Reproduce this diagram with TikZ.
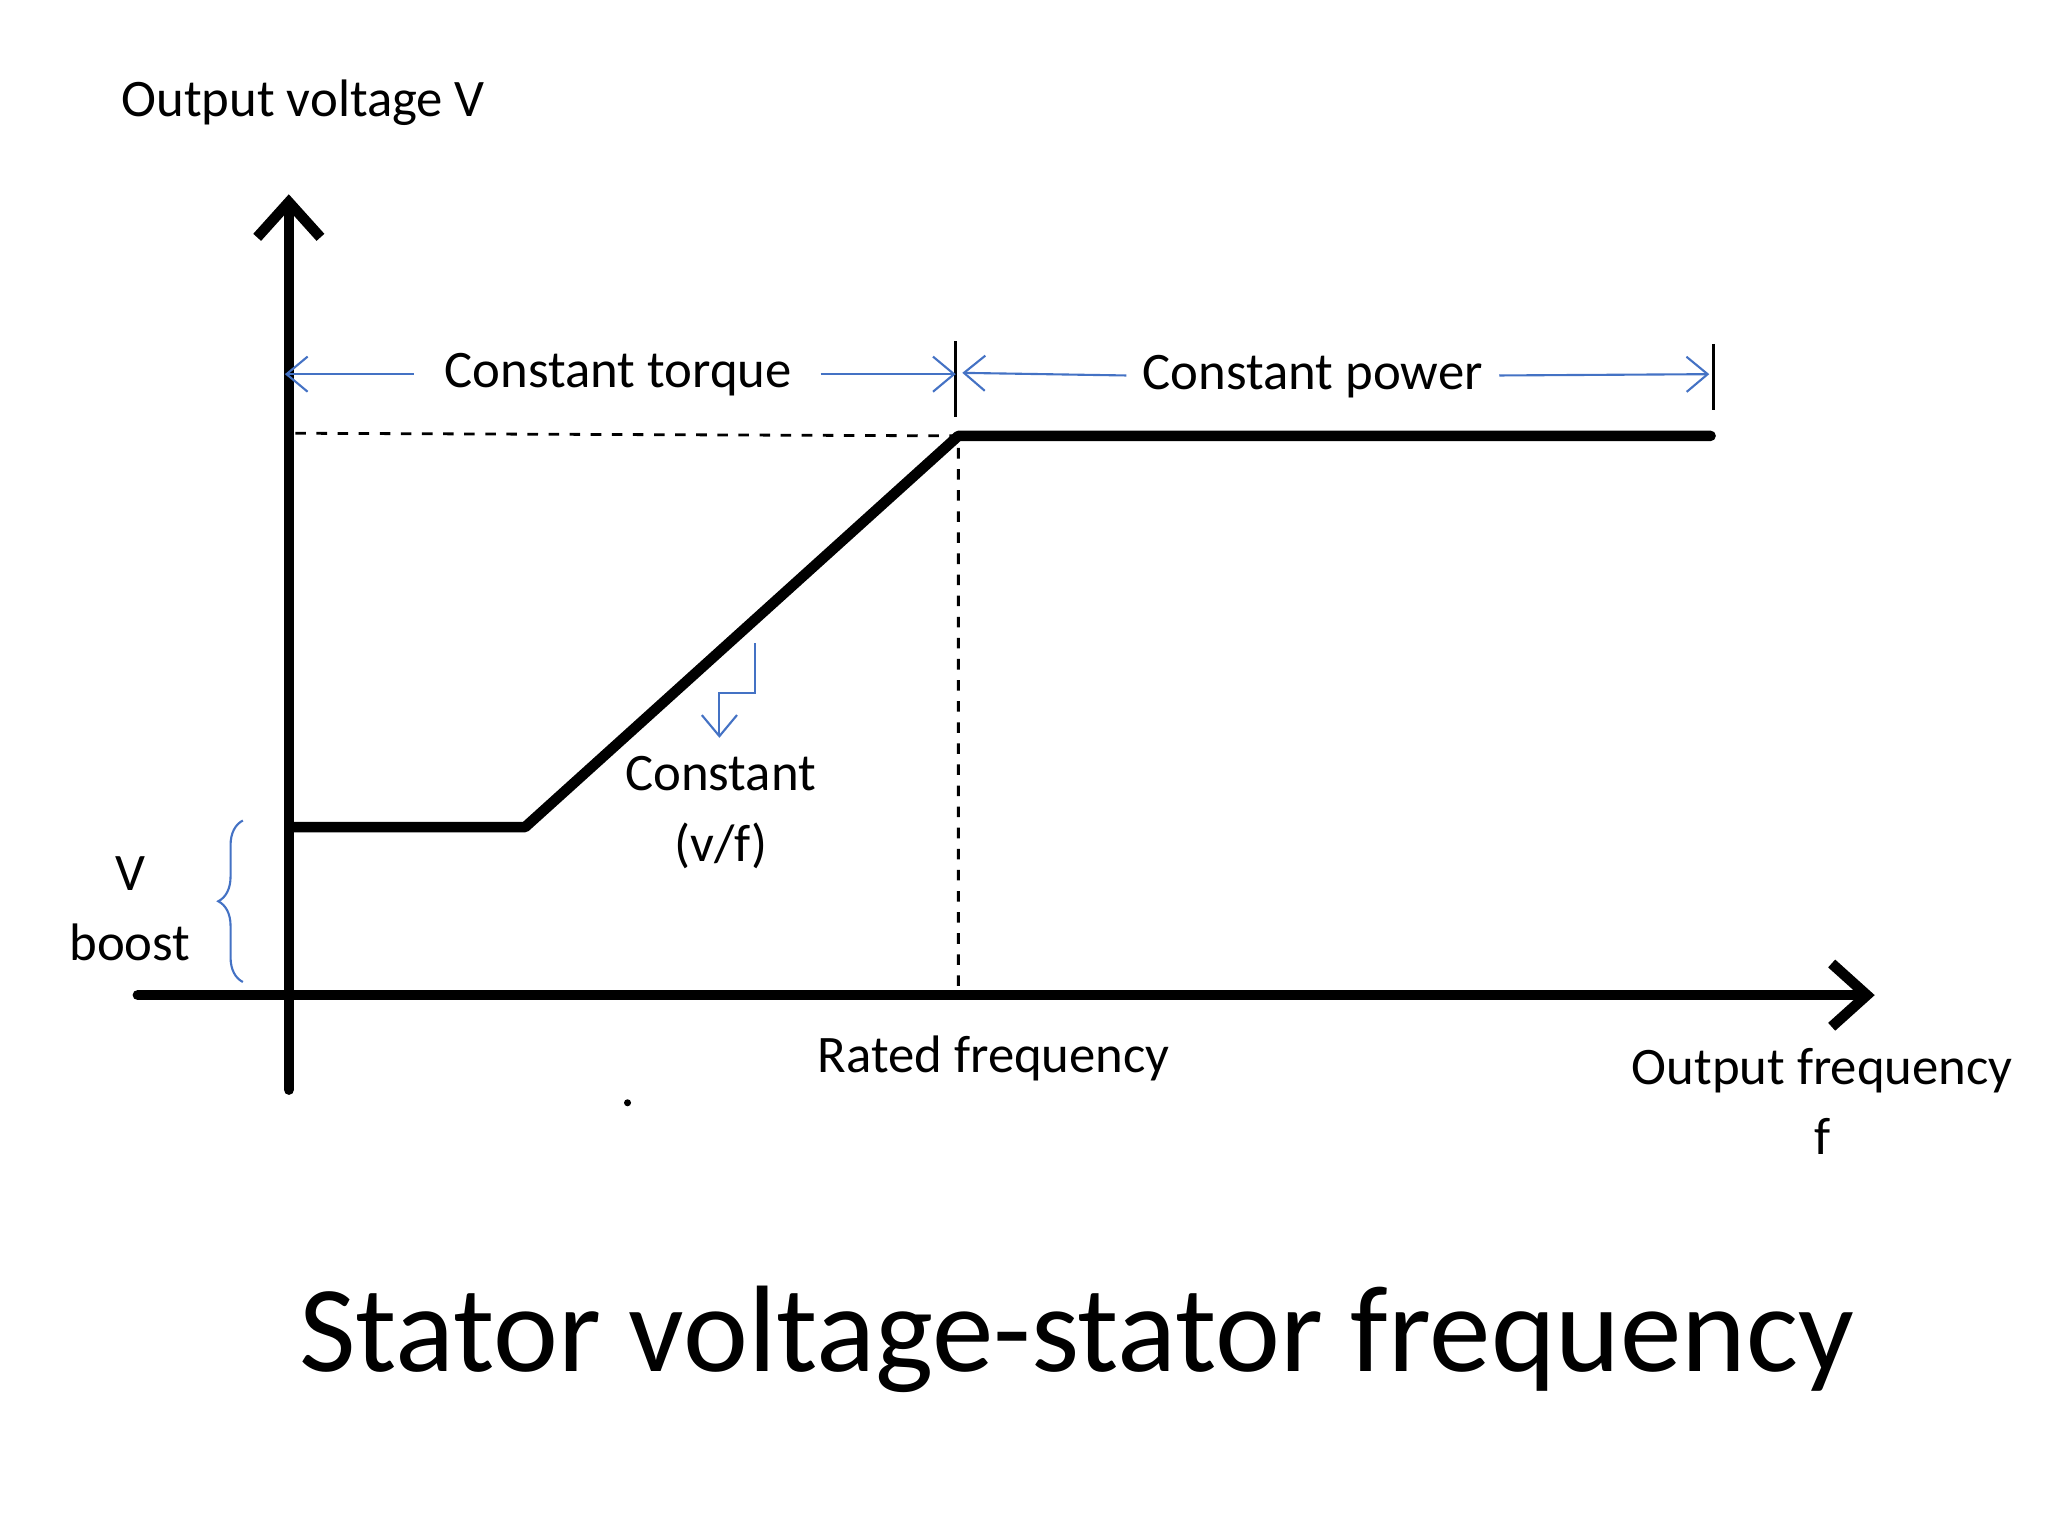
\documentclass[tikz,border=0pt]{standalone}
\usepackage{fontspec}
\setmainfont{Carlito}
\usetikzlibrary{arrows.meta,decorations.pathreplacing}
\definecolor{myblue}{RGB}{68,114,196}
\begin{document}
\begin{tikzpicture}[x=0.013128cm,y=-0.013128cm,
  lab/.style={font=\fontsize{15}{18}\selectfont,inner sep=0pt,align=center},
  thickline/.style={line width=3pt,line cap=round,line join=round},
  bl/.style={myblue,line width=0.6pt,-{Straight Barb[length=6pt,width=10pt]}}]
\useasboundingbox (0,0) rectangle (1560,1170);
% axes
\coordinate (yb) at (220,830); \coordinate (yt) at (220,148);
\coordinate (xl) at (105,758); \coordinate (xr) at (1428,758);
\draw[thickline,-{Straight Barb[length=10pt,width=18pt,line width=3pt]}] (yb) -- (yt);
\draw[thickline,-{Straight Barb[length=10pt,width=18pt,line width=3pt]}] (xl) -- (xr);
% curve
\coordinate (p0) at (222,630); \coordinate (p1) at (400,630);
\coordinate (p2) at (730,332); \coordinate (p3) at (1303,332);
\draw[thickline] (p0) -- (p1) -- (p2) -- (p3);
% dashed
\coordinate (d0) at (225,330); \coordinate (d1) at (730,755);
\draw[dashed,line width=0.8pt] (d0) -- (p2) -- (d1);
% ticks
\coordinate (t1a) at (728,260); \coordinate (t1b) at (728,318);
\coordinate (t2a) at (1305,262); \coordinate (t2b) at (1305,312);
\draw[line width=0.8pt] (t1a) -- (t1b) (t2a) -- (t2b);
% labels
\node[lab] (ct) at (471,285) {Constant torque};
\node[lab] (cp) at (1000,287) {Constant power};
\coordinate (a1) at (217,285); \coordinate (a2) at (728,285);
\coordinate (a3) at (733,284); \coordinate (a4) at (1302,285);
\draw[bl] (315,285) -- (a1);
\draw[bl] (625,285) -- (a2);
\draw[bl] (858,286) -- (a3);
\draw[bl] (1142,286) -- (a4);
\coordinate (b0) at (575,490); \coordinate (b3) at (548,562);
\draw[bl] (b0) -- (575,528) -- (548,528) -- (b3);
\draw[myblue,line width=0.6pt,decorate,decoration={brace,amplitude=7pt}] (185,748) -- (185,625);
\node[lab] (cv) at (549,619) {Constant\\[2pt](v/f)};
\node[lab] (vb) at (99,692) {V\\[2pt]boost};
\node[lab] (rf) at (757,806) {Rated frequency};
\node[lab] (of) at (1388,839) {Output frequency\\[2pt]f};
\node[lab] (ov) at (231,78) {Output voltage V};
\fill (478,840) circle (1pt);
\node[inner sep=0pt,font=\fontsize{35}{42}\selectfont] (title) at (820,1020) {Stator voltage-stator frequency};
\end{tikzpicture}
\end{document}
